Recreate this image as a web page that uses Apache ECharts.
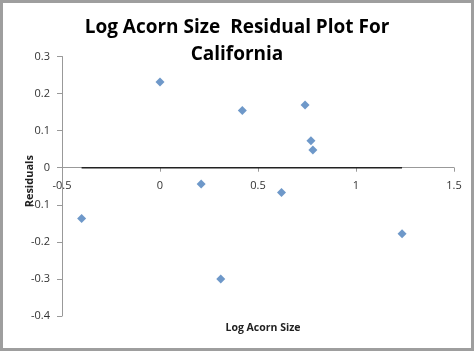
<!DOCTYPE html>
<html>
<head>
<meta charset="utf-8">
<style>
  html, body { margin: 0; padding: 0; background: #fff; }
  #canvas { width: 474px; height: 351px; box-sizing: border-box; border: 3px solid #9e9e9e; }
</style>
<script src="https://cdn.jsdelivr.net/npm/echarts@6/dist/echarts.min.js"></script>
</head>
<body>
<div id="canvas"></div>
<script>
const logAcornSize = [-0.40, 0.00, 0.42, 0.21, 0.31, 0.74, 0.77, 0.78, 0.62, 1.235];
const residuals = [-0.137, 0.231, 0.154, -0.044, -0.300, 0.169, 0.073, 0.048, -0.067, -0.178];

const yMin = -0.4;
const yMax = 0.3;

const points = logAcornSize.map((x, i) => [x, residuals[i]]);
const zeroLine = [[Math.min(...logAcornSize), 0], [Math.max(...logAcornSize), 0]];

const el = document.getElementById('canvas');
const chart = echarts.init(el);

const font = 'Open Sans, sans-serif';
const grid = { left: 59, right: 17, top: 53.5, bottom: 32 };
const gridH = el.clientHeight - grid.top - grid.bottom;
const gridW = el.clientWidth - grid.left - grid.right;
// onZero didn't take, so lift the x axis up to y = 0 by hand
const zeroOffset = -gridH * (0 - yMin) / (yMax - yMin);

const option = {
  backgroundColor: '#fff',
  animation: false,
  title: [
    {
      text: 'Log Acorn Size  Residual Plot For\nCalifornia',
      left: 'center',
      top: 6.5,
      textStyle: {
        fontFamily: font,
        fontWeight: 'bold',
        fontSize: 19,
        lineHeight: 27,
        color: '#000',
      },
    },
    {
      text: 'Log Acorn Size',
      left: grid.left + gridW / 2,
      textAlign: 'center',
      top: 315,
      textStyle: {
        fontFamily: font,
        fontWeight: 'bold',
        fontSize: 10.5,
        color: '#222',
      },
    },
  ],
  grid: grid,
  xAxis: {
    type: 'value',
    min: -0.5,
    max: 1.5,
    interval: 0.5,
    position: 'bottom',
    offset: zeroOffset,
    splitLine: { show: false },
    axisLine: { show: true, onZero: false, lineStyle: { color: '#999' } },
    axisTick: { show: true, inside: false, length: 4, lineStyle: { color: '#999' } },
    axisLabel: { fontFamily: font, fontSize: 11, color: '#333', margin: 13 },
  },
  yAxis: {
    type: 'value',
    min: yMin,
    max: yMax,
    interval: 0.1,
    name: 'Residuals',
    nameLocation: 'middle',
    nameGap: 27,
    nameMoveOverlap: false,
    nameTextStyle: {
      fontFamily: font, fontWeight: 'bold', fontSize: 11, color: '#222',
      padding: [0, 0, 0, 10],
    },
    splitLine: { show: false },
    axisLine: { show: true, onZero: false, lineStyle: { color: '#999' } },
    axisTick: { show: true, length: 5, lineStyle: { color: '#999' } },
    axisLabel: { fontFamily: font, fontSize: 11, color: '#333', margin: 12 },
  },
  series: [
    {
      type: 'line',
      data: zeroLine,
      symbol: 'none',
      lineStyle: { color: '#222', width: 1.5 },
      z: 1,
    },
    {
      type: 'scatter',
      data: points,
      symbol: 'diamond',
      symbolSize: 9,
      itemStyle: { color: '#4A7EBB' },
      z: 3,
    },
  ],
};

chart.setOption(option);

window.onresize = chart.resize;
</script>
</body>
</html>
